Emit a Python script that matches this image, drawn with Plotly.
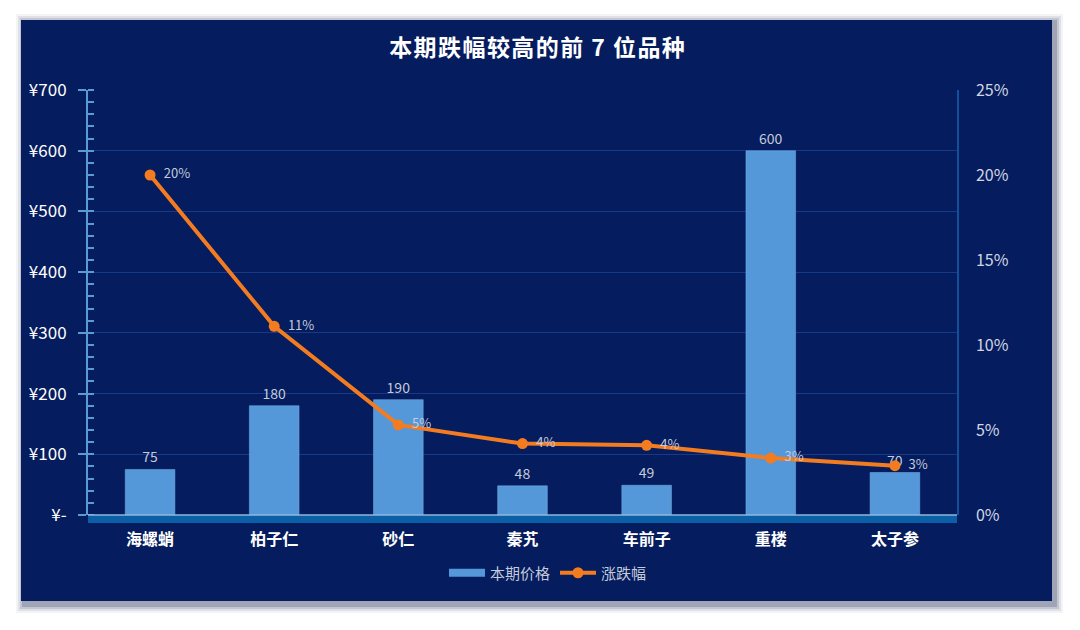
import plotly.graph_objects as go

# data
varieties = ["海螺蛸", "柏子仁", "砂仁", "秦艽", "车前子", "重楼", "太子参"]
price = [75, 180, 190, 48, 49, 600, 70]
change_pct = [20.0, 11.1, 5.3, 4.2, 4.1, 3.35, 2.9]
change_labels = ["20%", "11%", "5%", "4%", "4%", "3%", "3%"]

price_ticks = [0, 100, 200, 300, 400, 500, 600, 700]
price_tick_text = ["¥-", "¥100", "¥200", "¥300", "¥400", "¥500", "¥600", "¥700"]
pct_ticks = [0, 5, 10, 15, 20, 25]
pct_tick_text = ["0%", "5%", "10%", "15%", "20%", "25%"]

# page body has an 8px margin, so work in screen pixels and shift
OFF = 8
W, H = 1080 - 2 * OFF, 630 - 2 * OFF
PL, PR, PT, PB = 88, 957, 90, 515  # plot area in screen pixels
L, R, T, B = PL - OFF, W - (PR - OFF), PT - OFF, H - (PB - OFF)
NAVY = "#051c5e"
FONT = "Noto Sans CJK SC, Open Sans, sans-serif"
TITLE = "\u200a".join("本期跌幅较高的前 7 位品种")


def px_x(v):
    # screen pixel -> paper x
    return (v - PL) / (PR - PL)


def px_y(v):
    return (PB - v) / (PB - PT)


fig = go.Figure()

fig.add_trace(go.Bar(
    x=varieties, y=price, name="本期价格", showlegend=False,
    width=0.4,
    marker=dict(color="#5598da", line=dict(color="#78b0e6", width=0.5)),
    text=[str(p) for p in price], textposition="outside",
    textfont=dict(color="#c3cbdb", size=14, family=FONT),
    cliponaxis=False,
))
# wide legend swatch for the bars
fig.add_trace(go.Scatter(
    x=[None], y=[None], name="本期价格", mode="lines",
    line=dict(color="#5598da", width=8),
))

fig.add_trace(go.Scatter(
    x=varieties, y=change_pct, name="涨跌幅", yaxis="y2",
    mode="lines+markers+text",
    line=dict(color="#f47c20", width=4),
    marker=dict(color="#f47c20", size=11),
    text=["  " + t for t in change_labels], textposition="middle right",
    textfont=dict(color="#c3cbdb", size=13, family=FONT),
    cliponaxis=False,
))

shapes = []
# soft drop shadow around the panel
for i, op in enumerate([0.06, 0.10, 0.16, 0.24]):
    d = 8 - 2 * i
    shapes.append(dict(
        type="rect", xref="paper", yref="paper", layer="below",
        x0=px_x(21 - d + 3), x1=px_x(1052 + d + 3),
        y0=px_y(601 + d + 4), y1=px_y(20 - d + 2),
        fillcolor=f"rgba(50,60,100,{op})", line=dict(width=0),
    ))
# navy panel
shapes.append(dict(
    type="rect", xref="paper", yref="paper", layer="below",
    x0=px_x(21), x1=px_x(1052), y0=px_y(601), y1=px_y(20),
    fillcolor=NAVY, line=dict(width=0),
))
# bottom axis band
shapes.append(dict(
    type="rect", xref="paper", yref="paper", layer="above",
    x0=0, x1=1, y0=px_y(523), y1=px_y(515),
    fillcolor="#0a5fa6", line=dict(width=0),
))
shapes.append(dict(
    type="line", xref="paper", yref="paper", layer="above",
    x0=0, x1=1, y0=0, y1=0,
    line=dict(color="#8fb6dc", width=1.5),
))

fig.update_layout(
    width=W, height=H,
    margin=dict(l=L, r=R, t=T, b=B),
    paper_bgcolor="white",
    plot_bgcolor="rgba(0,0,0,0)",
    shapes=shapes,
    title=dict(
        text="<b>" + TITLE + "</b>",
        x=px_x(537), xref="paper", xanchor="center",
        y=1 - (48 - OFF) / H, yanchor="middle",
        font=dict(color="white", size=23, family=FONT),
    ),
    xaxis=dict(
        showgrid=False, showline=False,
        tickvals=varieties, ticktext=["<b>" + v + "</b>" for v in varieties],
        ticks="outside", ticklen=10, tickcolor="rgba(0,0,0,0)",
        tickfont=dict(color="white", size=16, family=FONT),
        range=[-0.5, 6.5],
    ),
    yaxis=dict(
        range=[0, 700], tickvals=price_ticks, ticktext=price_tick_text,
        tickfont=dict(color="white", size=17, family=FONT),
        gridcolor="#163a86", gridwidth=1, zeroline=False,
        showline=True, linecolor="#5b9bd5", linewidth=2,
        ticks="outside", ticklen=8, tickcolor="#5b9bd5", tickwidth=1.5,
        ticklabelstandoff=8,
        minor=dict(dtick=20, ticks="inside", ticklen=6, tickcolor="#5b9bd5", showgrid=False),
    ),
    yaxis2=dict(
        range=[0, 25], tickvals=pct_ticks, ticktext=pct_tick_text,
        overlaying="y", side="right",
        tickfont=dict(color="#d0d6e2", size=16, family=FONT),
        showgrid=False, zeroline=False,
        showline=True, linecolor="#12509c", linewidth=1.5,
        ticklabelstandoff=14,
    ),
    legend=dict(
        orientation="h", x=px_x(548), xanchor="center",
        y=px_y(573), yanchor="middle",
        font=dict(color="#c3cbdb", size=15, family=FONT),
        bgcolor="rgba(0,0,0,0)",
        itemwidth=36,
    ),
    bargap=0.6,
)

fig.write_html("out.html")
